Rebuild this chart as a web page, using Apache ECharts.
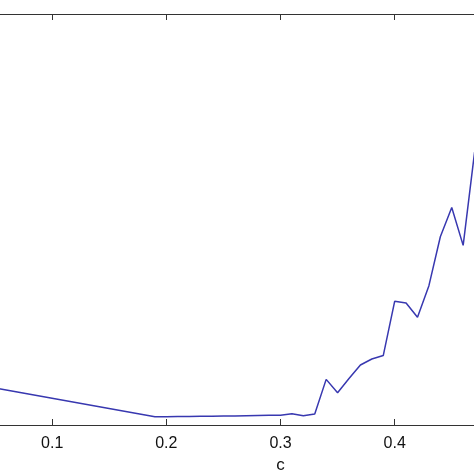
<!DOCTYPE html>
<html>
<head>
<meta charset="utf-8">
<script src="https://cdn.jsdelivr.net/npm/echarts@6/dist/echarts.min.js"></script>
<style>
html,body{margin:0;padding:0;background:#fff;overflow:hidden;width:474px;height:474px;}
/* the original figure is cropped: the plot box runs past both edges of the picture */
#chart{position:absolute;left:-61.7px;top:0;width:685.2px;height:474px;}
</style>
</head>
<body>
<div id="chart"></div>
<script>
// c values along the x axis
var cValues = [0.05, 0.19, 0.20, 0.21, 0.22, 0.23, 0.24, 0.25, 0.26, 0.27, 0.28, 0.29, 0.30,
               0.31, 0.32, 0.33, 0.34, 0.35, 0.36, 0.37, 0.38, 0.39, 0.40, 0.41, 0.42,
               0.43, 0.44, 0.45, 0.46, 0.47];
// curve values (y axis is cut off in the picture, so relative units)
var yValues = [9.0, 2.0, 2.0, 2.05, 2.05, 2.1, 2.15, 2.2, 2.2, 2.25, 2.3, 2.35, 2.4,
               2.75, 2.26, 2.7, 11.1, 7.85, 11.3, 14.6, 16.06, 16.9, 30.1, 29.7, 26.2,
               33.9, 45.8, 52.9, 43.7, 66.4];
var xTicks = [0, 0.1, 0.2, 0.3, 0.4, 0.5, 0.6];

var chart = echarts.init(document.getElementById('chart'));

var pts = [];
for (var i = 0; i < cValues.length; i++) {
    pts.push([cValues[i], yValues[i]]);
}

var font = '"Liberation Sans", Arial, sans-serif';

var option = {
    animation: false,
    grid: {
        left: 0,
        right: 0,
        top: 14,
        bottom: 49,
        outerBoundsMode: 'none'
    },
    xAxis: [
        {
            type: 'value',
            min: xTicks[0],
            max: xTicks[xTicks.length - 1],
            interval: 0.1,
            position: 'bottom',
            name: 'c',
            nameLocation: 'middle',
            nameGap: 27,
            nameTextStyle: {color: '#111', fontSize: 17, fontFamily: font},
            axisLine: {lineStyle: {color: '#333', width: 1.2}},
            axisTick: {inside: true, length: 6, lineStyle: {color: '#333'}},
            axisLabel: {
                color: '#111', fontSize: 16, fontFamily: font, margin: 11,
                formatter: function (v) { return Math.round(v * 10) / 10 + ''; }
            },
            splitLine: {show: false}
        },
        {
            type: 'value',
            min: xTicks[0],
            max: xTicks[xTicks.length - 1],
            interval: 0.1,
            position: 'top',
            axisLine: {lineStyle: {color: '#333', width: 1.2}},
            axisTick: {inside: true, length: 6, lineStyle: {color: '#333'}},
            axisLabel: {show: false},
            splitLine: {show: false}
        }
    ],
    yAxis: {
        type: 'value',
        min: 0,
        max: 100,
        axisLine: {show: false},
        axisTick: {show: false},
        axisLabel: {show: false},
        splitLine: {show: false}
    },
    series: [{
        type: 'line',
        data: pts,
        symbol: 'none',
        lineStyle: {color: '#3838b0', width: 1.5}
    }]
};

chart.setOption(option);
</script>
</body>
</html>
